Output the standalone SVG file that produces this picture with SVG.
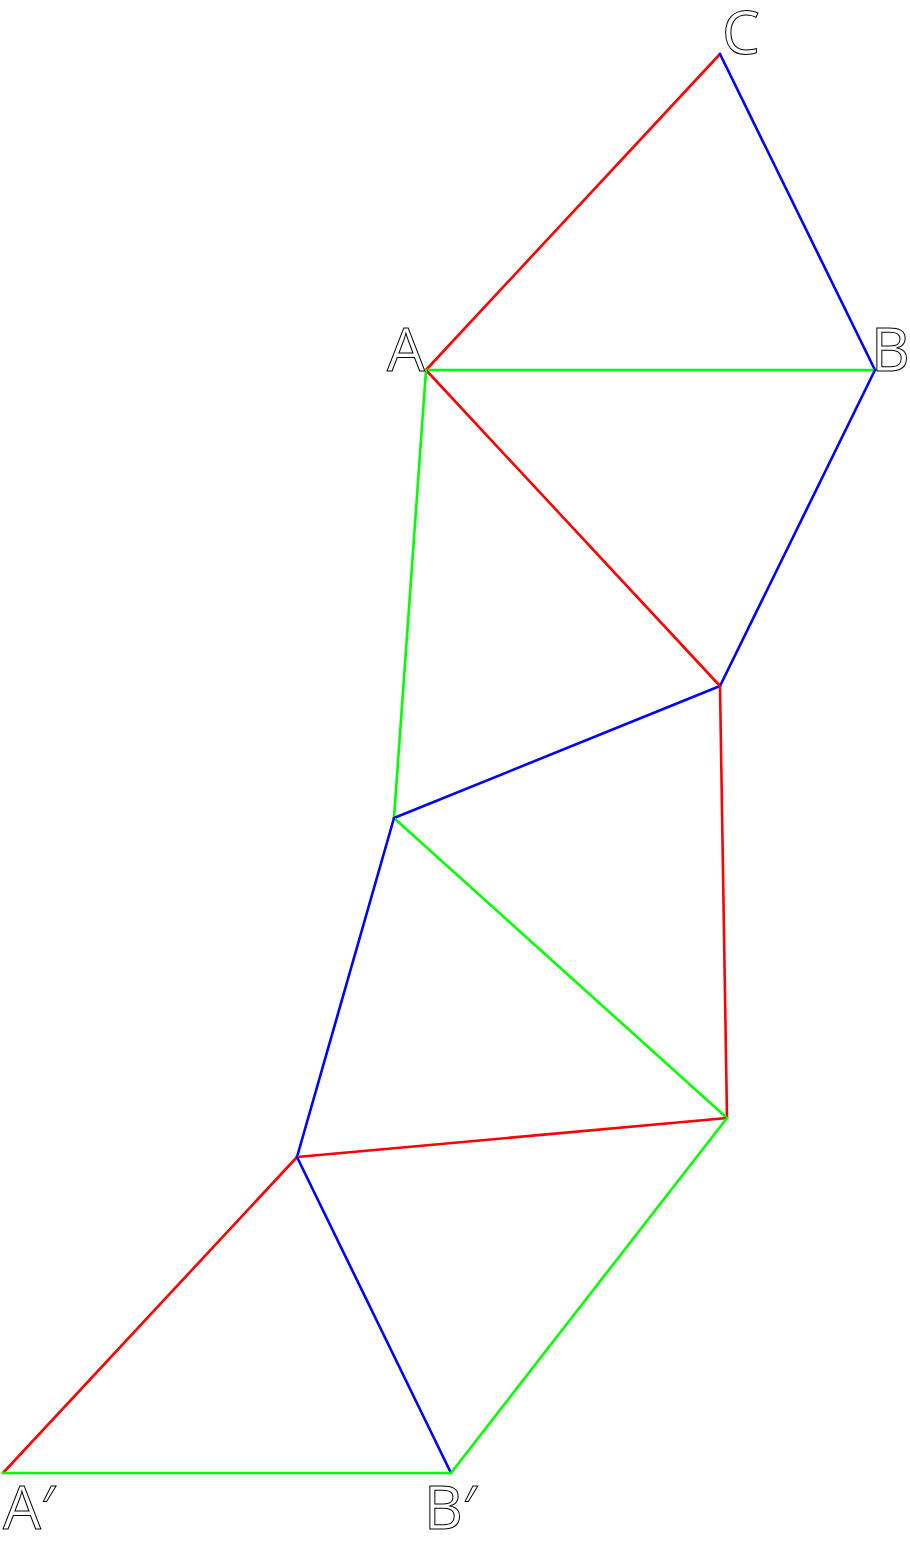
<svg xmlns="http://www.w3.org/2000/svg" width="910" height="1546" viewBox="0 0 910 1546">
<style>
.r{stroke:#ff0000}.b{stroke:#0000ff}.g{stroke:#00ff00}
line{stroke-width:2.6;stroke-linecap:round}
text{font-family:"Open Sans","DejaVu Sans",sans-serif;font-size:60px;fill:#ffffff;stroke:#000000;stroke-width:1}
</style>
<rect width="910" height="1546" fill="#ffffff"/>
<g id="connectors">
<line class="r" x1="426" y1="370" x2="720" y2="54"/>
<line class="b" x1="720" y1="54" x2="875" y2="370"/>
<line class="g" x1="426" y1="370" x2="875" y2="370"/>
<line class="r" x1="426" y1="370" x2="720" y2="686"/>
<line class="b" x1="875" y1="370" x2="720" y2="686"/>
<line class="g" x1="426" y1="370" x2="394" y2="818"/>
<line class="b" x1="720" y1="686" x2="394" y2="818"/>
<line class="r" x1="720" y1="686" x2="727" y2="1118"/>
<line class="g" x1="394" y1="818" x2="727" y2="1118"/>
<line class="b" x1="394" y1="818" x2="297" y2="1157"/>
<line class="r" x1="297" y1="1157" x2="727" y2="1118"/>
<line class="r" x1="297" y1="1157" x2="3" y2="1473"/>
<line class="b" x1="297" y1="1157" x2="451" y2="1473"/>
<line class="g" x1="727" y1="1118" x2="451" y2="1473"/>
<line class="g" x1="3" y1="1473" x2="451" y2="1473"/>
</g>
<g id="label-C"><text x="722" y="54">C</text></g>
<g id="label-A"><text x="425" y="371" text-anchor="end">A</text></g>
<g id="label-B"><text x="871" y="371">B</text></g>
<g id="label-A1"><text x="3" y="1529">A′</text></g>
<g id="label-B1"><text x="424" y="1529">B′</text></g>
</svg>
